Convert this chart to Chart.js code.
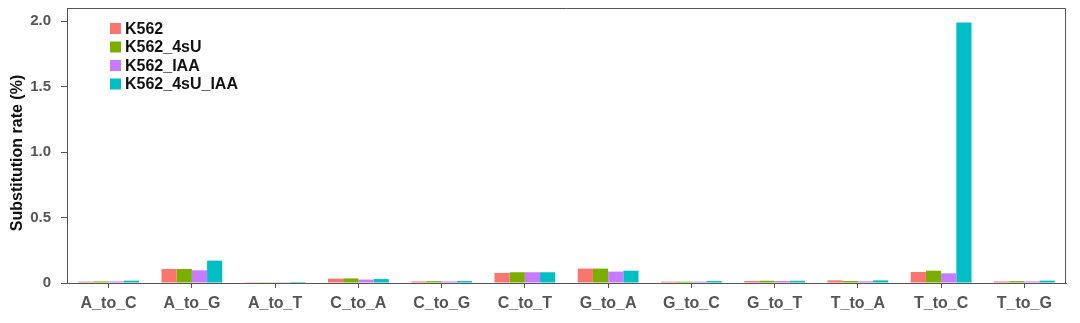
<!DOCTYPE html>
<html>
<head>
<meta charset="utf-8">
<script src="https://cdn.jsdelivr.net/npm/chart.js@4/dist/chart.umd.min.js"></script>
<style>
  html, body { margin: 0; padding: 0; background: #fff; }
  #wrap { width: 1080px; height: 323px; }
</style>
</head>
<body>
<div id="wrap"><canvas id="chart"></canvas></div>
<script>
const categories = ['A_to_C', 'A_to_G', 'A_to_T', 'C_to_A', 'C_to_G', 'C_to_T', 'G_to_A', 'G_to_C', 'G_to_T', 'T_to_A', 'T_to_C', 'T_to_G'];
const seriesNames = ['K562', 'K562_4sU', 'K562_IAA', 'K562_4sU_IAA'];
const seriesColors = ['#F8766D', '#7CAE00', '#C77CFF', '#00BFC4'];

const k562 =        [0.010, 0.107, 0.006, 0.033, 0.012, 0.077, 0.110, 0.010, 0.015, 0.020, 0.084, 0.012];
const k562_4sU =    [0.012, 0.107, 0.006, 0.035, 0.014, 0.082, 0.110, 0.010, 0.017, 0.015, 0.094, 0.014];
const k562_IAA =    [0.012, 0.097, 0.006, 0.026, 0.012, 0.082, 0.087, 0.010, 0.015, 0.013, 0.074, 0.012];
const k562_4sU_IAA = [0.018, 0.171, 0.008, 0.030, 0.015, 0.082, 0.094, 0.015, 0.017, 0.020, 1.990, 0.018];

const yTicks = [0, 0.5, 1.0, 1.5, 2.0];
const yTitle = 'Substitution rate (%)';

const seriesValues = [k562, k562_4sU, k562_IAA, k562_4sU_IAA];
const FONT = 'Arial, "Liberation Sans", sans-serif';

// box around plot, y title and legend inside top-left
const boxAndLegend = {
    id: 'boxAndLegend',
    afterDraw(chart) {
        const ctx = chart.ctx;
        const a = chart.chartArea;
        ctx.save();
        ctx.strokeStyle = '#555';
        ctx.lineWidth = 1;
        ctx.beginPath();
        ctx.moveTo(a.left, a.top + 0.5);
        ctx.lineTo(a.right - 0.5, a.top + 0.5);
        ctx.lineTo(a.right - 0.5, a.bottom);
        ctx.stroke();

        // y title
        ctx.save();
        ctx.translate(18, 153);
        ctx.rotate(-Math.PI / 2);
        ctx.font = 'bold 16px ' + FONT;
        ctx.fillStyle = '#111';
        ctx.textAlign = 'center';
        ctx.textBaseline = 'middle';
        ctx.fillText(yTitle, 0, 0);
        ctx.restore();

        ctx.font = 'bold 16px ' + FONT;
        ctx.textBaseline = 'middle';
        let x = 110, y = 28.5;
        chart.data.datasets.forEach((ds, i) => {
            ctx.fillStyle = ds.backgroundColor;
            ctx.fillRect(x, y + i * 18.5 - 5.5, 11, 11);
            ctx.fillStyle = '#111';
            ctx.fillText(ds.label, x + 15, y + i * 18.5 + 1);
        });
        ctx.restore();
    }
};

new Chart(document.getElementById('chart'), {
    type: 'bar',
    data: {
        labels: categories,
        datasets: seriesNames.map((name, i) => ({
            label: name,
            data: seriesValues[i],
            backgroundColor: seriesColors[i],
            borderWidth: 0,
            categoryPercentage: 0.73,
            barPercentage: 1.0
        }))
    },
    options: {
        responsive: true,
        maintainAspectRatio: false,
        animation: false,
        layout: { padding: { top: 8, right: 14, left: 0, bottom: 0 } },
        plugins: {
            legend: { display: false },
            tooltip: { enabled: false }
        },
        scales: {
            x: {
                grid: {
                    offset: false,
                    drawOnChartArea: false,
                    drawTicks: true,
                    tickLength: 5,
                    color: '#555',
                    tickColor: '#555'
                },
                border: { color: '#555', width: 1 },
                ticks: {
                    color: '#555',
                    padding: 6,
                    maxRotation: 0,
                    font: { family: FONT, size: 16, weight: 'bold' }
                },
                afterFit(scale) { scale.height = 40; }
            },
            y: {
                min: 0,
                max: 2.1,
                afterBuildTicks(scale) {
                    scale.ticks = yTicks.map(v => ({ value: v }));
                },
                grid: {
                    drawOnChartArea: false,
                    tickLength: 6,
                    color: '#555',
                    tickColor: '#555'
                },
                border: { color: '#555', width: 1 },
                ticks: {
                    color: '#555',
                    padding: 10,
                    font: { family: FONT, size: 15, weight: 'bold' },
                    callback: v => v === 0 ? '0' : v.toFixed(1)
                },
                afterFit(scale) {
                    scale.width = 67;
                    scale.paddingTop = 0;
                    scale.paddingBottom = 0;
                }
            }
        }
    },
    plugins: [boxAndLegend]
});
</script>
</body>
</html>
